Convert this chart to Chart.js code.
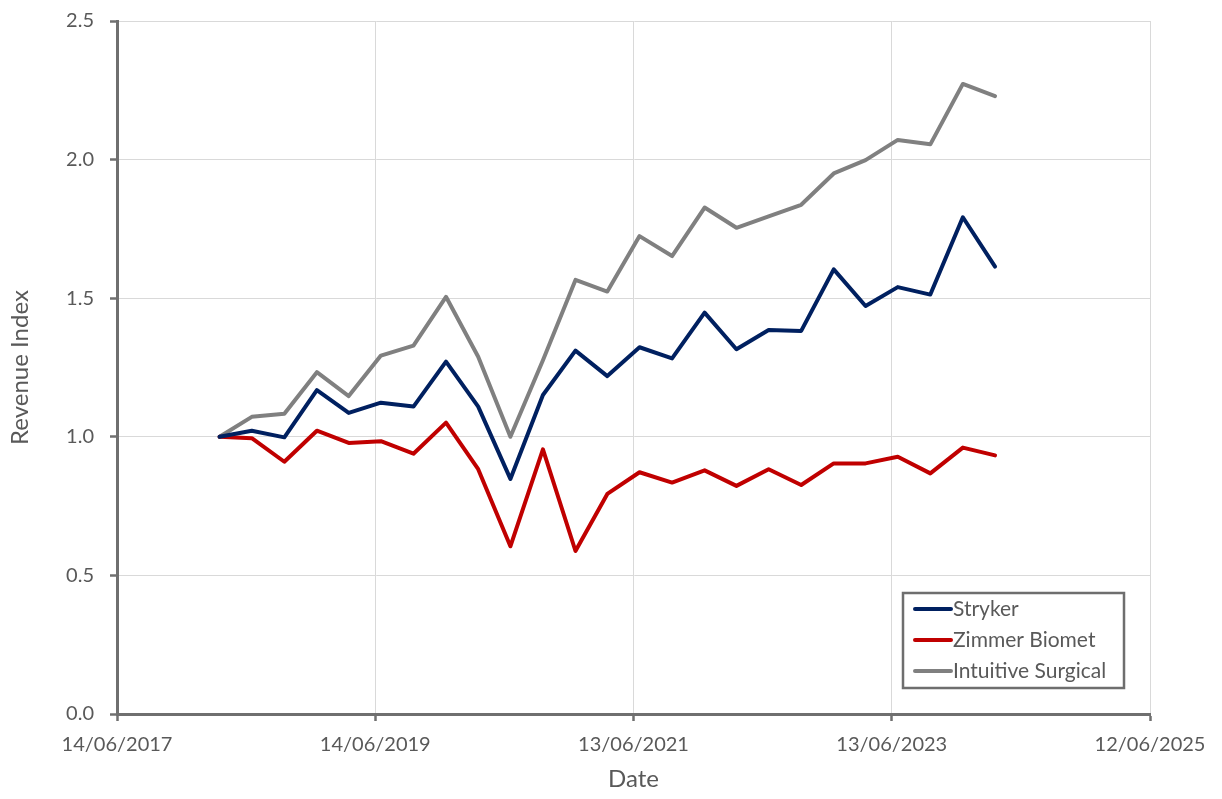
<!DOCTYPE html>
<html>
<head>
<meta charset="utf-8">
<script src="https://cdn.jsdelivr.net/npm/chart.js@4.4.1/dist/chart.umd.min.js"></script>
<style>
  html, body { margin: 0; padding: 0; background: #ffffff; }
  #wrap { position: relative; width: 1222px; height: 799px; }
</style>
</head>
<body>
<div id="wrap"><canvas id="c" width="1222" height="799"></canvas></div>
<script>
// Quarter-end dates of each observation
const dates = [
  "2018-03-31","2018-06-30","2018-09-30","2018-12-31",
  "2019-03-31","2019-06-30","2019-09-30","2019-12-31",
  "2020-03-31","2020-06-30","2020-09-30","2020-12-31",
  "2021-03-31","2021-06-30","2021-09-30","2021-12-31",
  "2022-03-31","2022-06-30","2022-09-30","2022-12-31",
  "2023-03-31","2023-06-30","2023-09-30","2023-12-31",
  "2024-03-31"
];
const stryker = [1.000, 1.022, 0.998, 1.168, 1.086, 1.123, 1.109, 1.271, 1.109, 0.848,
                 1.151, 1.311, 1.219, 1.323, 1.283, 1.448, 1.316, 1.385, 1.382, 1.604,
                 1.472, 1.540, 1.513, 1.792, 1.614];
const zimmer  = [1.000, 0.995, 0.910, 1.022, 0.978, 0.984, 0.939, 1.051, 0.883, 0.605,
                 0.955, 0.588, 0.794, 0.872, 0.835, 0.879, 0.823, 0.883, 0.826, 0.904,
                 0.904, 0.928, 0.868, 0.961, 0.933];
const intuitive = [1.000, 1.072, 1.083, 1.233, 1.147, 1.293, 1.329, 1.505, 1.289, 1.000,
                 1.276, 1.566, 1.524, 1.724, 1.652, 1.827, 1.754, 1.795, 1.837, 1.950,
                 1.998, 2.071, 2.055, 2.273, 2.229];
const seriesNames = ["Stryker", "Zimmer Biomet", "Intuitive Surgical"];
const xTickDates = ["2017-06-14", "2019-06-14", "2021-06-13", "2023-06-13", "2025-06-12"];
const yTicks = [0, 0.5, 1.0, 1.5, 2.0, 2.5];

const EPOCH = Date.UTC(1899, 11, 30);
function toSerial(s) {
  const [y, m, d] = s.split("-").map(Number);
  return Math.round((Date.UTC(y, m - 1, d) - EPOCH) / 86400000);
}
function fromSerial(n) {
  const dt = new Date(EPOCH + n * 86400000);
  const dd = String(dt.getUTCDate()).padStart(2, "0");
  const mm = String(dt.getUTCMonth() + 1).padStart(2, "0");
  return dd + "/" + mm + "/" + dt.getUTCFullYear();
}
const xs = dates.map(toSerial);
const xTickVals = xTickDates.map(toSerial);

const FONT = "Lato, 'Open Sans', sans-serif";
const TXT = "#595959";
const AXIS = "#6F6F6F";
const GRID = "#D9D9D9";
const colors = ["#002060", "#C00000", "#808080"];
const values = [stryker, zimmer, intuitive];

const datasets = values.map((vals, i) => ({
  label: seriesNames[i],
  data: vals.map((v, j) => ({ x: xs[j], y: v })),
  borderColor: colors[i],
  backgroundColor: colors[i],
  borderWidth: 4,
  pointRadius: 0,
  pointHoverRadius: 0,
  tension: 0,
  borderJoinStyle: "round",
  borderCapStyle: "round",
  fill: false
}));

const legendBox = {
  id: "legendBox",
  afterDraw(chart) {
    const ctx = chart.ctx;
    const ca = chart.chartArea;
    const w = 221, h = 95;
    const x0 = ca.right - 26 - w;
    const y0 = ca.bottom - 26 - h;
    ctx.save();
    ctx.fillStyle = "#ffffff";
    ctx.fillRect(x0, y0, w, h);
    ctx.strokeStyle = "#6E6E6E";
    ctx.lineWidth = 2.5;
    ctx.strokeRect(x0, y0, w, h);
    ctx.font = "21px " + FONT;
    ctx.textBaseline = "middle";
    ctx.textAlign = "left";
    chart.data.datasets.forEach((ds, i) => {
      const cy = y0 + 16 + i * 31;
      ctx.strokeStyle = ds.borderColor;
      ctx.lineWidth = 4;
      ctx.lineCap = "round";
      ctx.beginPath();
      ctx.moveTo(x0 + 12, cy);
      ctx.lineTo(x0 + 48, cy);
      ctx.stroke();
      ctx.fillStyle = TXT;
      ctx.fillText(ds.label, x0 + 50, cy);
    });
    ctx.restore();
  }
};

new Chart(document.getElementById("c"), {
  type: "line",
  data: { datasets },
  options: {
    responsive: false,
    animation: false,
    events: [],
    layout: { padding: { top: 21, right: 72, left: 0, bottom: 0 } },
    plugins: { legend: { display: false }, tooltip: { enabled: false } },
    scales: {
      x: {
        type: "linear",
        min: xTickVals[0],
        max: xTickVals[xTickVals.length - 1],
        afterBuildTicks: (axis) => { axis.ticks = xTickVals.map(v => ({ value: v })); },
        afterFit: (scale) => { scale.height = 85; scale.paddingLeft = 0; scale.paddingRight = 0; },
        ticks: {
          callback: (v) => fromSerial(v),
          color: TXT,
          font: { family: FONT, size: 20 },
          padding: 12,
          maxRotation: 0,
          autoSkip: false
        },
        grid: { color: GRID, lineWidth: 1, tickColor: AXIS, tickWidth: 2.5, tickLength: 7 },
        border: { color: AXIS, width: 3 },
        title: {
          display: true, text: "Date", color: TXT,
          font: { family: FONT, size: 24 }, padding: { top: 0, bottom: 5 }
        }
      },
      y: {
        min: 0, max: 2.5,
        afterBuildTicks: (axis) => { axis.ticks = yTicks.map(v => ({ value: v })); },
        afterFit: (scale) => { scale.width = 117; scale.paddingTop = 0; scale.paddingBottom = 0; },
        ticks: {
          callback: (v) => Number(v).toFixed(1),
          color: TXT,
          font: { family: FONT, size: 20 },
          padding: 16
        },
        grid: { color: GRID, lineWidth: 1, tickColor: AXIS, tickWidth: 2.5, tickLength: 7 },
        border: { color: AXIS, width: 3 },
        title: {
          display: true, text: "Revenue Index", color: TXT,
          font: { family: FONT, size: 24 }, padding: { top: 6, bottom: 0 }
        }
      }
    }
  },
  plugins: [legendBox]
});
</script>
</body>
</html>
